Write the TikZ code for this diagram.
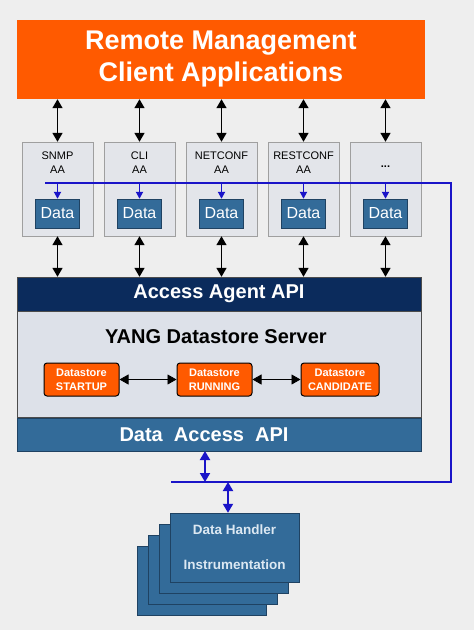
\documentclass[tikz,border=0pt]{standalone}
\usepackage{fontspec}
\setmainfont{Liberation Sans}
\usetikzlibrary{arrows.meta,positioning,calc}
\definecolor{mgmtorange}{HTML}{FF5A00}
\definecolor{apinavy}{HTML}{0B2B5C}
\definecolor{steel}{HTML}{336B99}
\definecolor{steeldark}{HTML}{1F4262}
\definecolor{aagray}{HTML}{E3E5EA}
\definecolor{srvgray}{HTML}{DDE1E9}
\definecolor{busblue}{HTML}{1A14C8}
\definecolor{bggray}{HTML}{EEEEEE}
\definecolor{paletext}{HTML}{DCE8F2}

\begin{document}
\begin{tikzpicture}[x=1pt,y=-1pt,
  blk/.style={draw,inner sep=0pt,align=center},
  aabox/.style={blk,draw=gray!75,fill=aagray,minimum width=71pt,minimum height=94pt},
  databox/.style={blk,draw=steeldark,fill=steel,text=white,minimum width=44pt,minimum height=29pt,
    font=\fontsize{16}{18}\selectfont},
  dsbox/.style={blk,draw=black,line width=1pt,rounded corners=3pt,fill=mgmtorange,text=white,
    minimum height=33pt,font=\fontsize{11}{14}\selectfont\bfseries},
  api/.style={blk,minimum width=404pt,text=white,font=\fontsize{20}{22}\selectfont\bfseries},
  dhbox/.style={blk,draw=steeldark,fill=steel,minimum width=129pt,minimum height=69pt},
  dbl/.style={{Triangle[length=9pt,width=10pt]}-{Triangle[length=9pt,width=10pt]},line width=1.6pt},
  busln/.style={draw=busblue,line width=1.8pt}]
  \fill[bggray] (0,0) rectangle (474,630);
  \useasboundingbox (0,0) rectangle (474,630);
  % clients
  \node[blk,draw=none,fill=mgmtorange,minimum width=408pt,minimum height=79pt,text=white,
    font=\fontsize{27}{32}\selectfont\bfseries] (mgmt) at (221,59.5)
    {Remote Management\\Client Applications};
  % access agents
  \foreach \i/\t/\dy in {1/SNMP\\AA/0,2/CLI\\AA/0,3/NETCONF\\AA/0,4/RESTCONF\\AA/0,5/\textbf{...}/8} {
    \node[aabox] (aa\i) at ({57.5+82*(\i-1)},189) {};
    \node[blk,draw=none,anchor=north,font=\fontsize{11}{14}\selectfont] (aat\i)
      at ($(aa\i.north)+(0,{8+\dy})$) {\strut\t};
    \node[databox,below=57pt of aa\i.north,anchor=north] (d\i) {Data};
  }
  % server stack
  \node[api,fill=apinavy,draw=black!70,minimum height=34pt] (aapi) at (219,294) {Access Agent API};
  \node[blk,draw=gray!60!black,fill=srvgray,minimum width=404pt,minimum height=106pt,
    below=0pt of aapi] (srv) {};
  \node[blk,draw=none,font=\fontsize{20}{22}\selectfont\bfseries,below=18pt of srv.north,anchor=north,
    xshift=-3pt] (srvt) {YANG Datastore Server};
  \node[api,fill=steel,draw=steeldark,minimum height=33pt,below=0pt of srv] (dapi)
    {Data\ \ Access\ \ API\hspace*{30pt}};
  \node[dsbox,minimum width=75pt] (ds1) at (81.5,379.5) {Datastore\\STARTUP};
  \node[dsbox,minimum width=75pt] (ds2) at (214.5,379.5) {Datastore\\RUNNING};
  \node[dsbox,minimum width=78pt] (ds3) at (340,379.5) {Datastore\\CANDIDATE};
  \draw[dbl,line width=0.8pt] (ds1) -- (ds2);
  \draw[dbl,line width=0.8pt] (ds2) -- (ds3);
  % data handlers
  \node[dhbox] (dh4) at (201.5,580.5) {};
  \node[dhbox] (dh3) at (212.5,569.5) {};
  \node[dhbox] (dh2) at (223.5,558.5) {};
  \node[dhbox,text=paletext,font=\fontsize{13.5}{35}\selectfont\bfseries] (dh) at (234.5,547.5)
    {Data Handler\\Instrumentation};
  % arrows
  \foreach \i in {1,...,5} {
    \draw[dbl] (aa\i.north |- mgmt.south) -- (aa\i.north);
    \draw[dbl] (aa\i.south) -- (aa\i.south |- aapi.north);
  }
  % notification bus
  \coordinate (busW) at (45,183);
  \coordinate (busNE) at (451,183);
  \coordinate (busSE) at (451,482);
  \coordinate (busS) at (171,482);
  \coordinate (tapA) at (205,482);
  \coordinate (tapB) at (228,482);
  \draw[busln] (busW) -- (busNE) -- (busSE) -- (busS);
  \foreach \i in {1,...,5} {
    \draw[busln,-{Triangle[length=7pt,width=7pt]}] (d\i.north |- busW) -- (d\i.north);
  }
  \draw[busln,{Triangle[length=9pt,width=10pt]}-{Triangle[length=9pt,width=10pt]}] (dapi.south -| tapA) -- (tapA);
  \draw[busln,{Triangle[length=9pt,width=10pt]}-{Triangle[length=9pt,width=10pt]}] (tapB) -- (tapB |- dh.north);
\end{tikzpicture}
\end{document}
